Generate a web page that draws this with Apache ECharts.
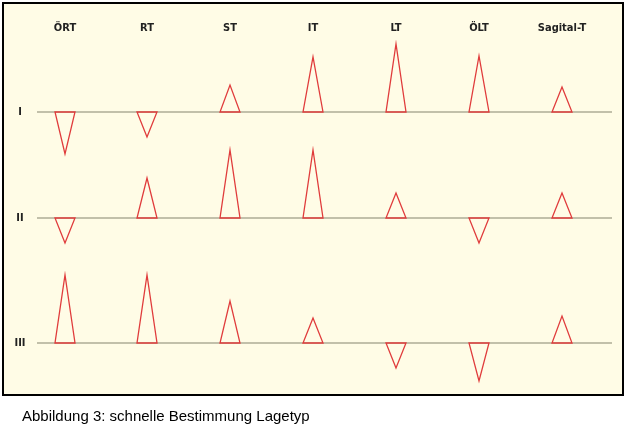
<!DOCTYPE html>
<html>
<head>
<meta charset="utf-8">
<script src="https://cdn.jsdelivr.net/npm/echarts@6/dist/echarts.min.js"></script>
<style>
  * { margin: 0; padding: 0; }
  html, body, #main { width: 626px; height: 436px; overflow: hidden; background: #fff; }
</style>
</head>
<body>
<div id="main"></div>
<script>
  // Spalten (Lagetypen) und Ableitungen
  var columns = ['ÖRT', 'RT', 'ST', 'IT', 'LT', 'ÖLT', 'Sagital-T'];
  var columnX = [65, 147, 230, 313, 396, 479, 562];
  var leads = ['I', 'II', 'III'];
  var leadBase = [112, 218, 343];
  // Ausschlag je Ableitung (positiv = nach oben)
  var leadI = [-42, -25, 27, 55, 68, 56, 25];
  var leadII = [-25, 40, 68, 68, 25, -25, 25];
  var leadIII = [68, 68, 42, 25, -25, -38, 27];

  var amplitudes = [leadI, leadII, leadIII];
  var triData = [];
  amplitudes.forEach(function (row, r) {
    row.forEach(function (h, c) {
      triData.push([columnX[c], leadBase[r], h]);
    });
  });
  var lineData = leadBase.map(function (b) { return [37, 612, b]; });
  var headerData = columns.map(function (n, i) { return [columnX[i], 28, n]; });
  var leadLabelData = leads.map(function (n, i) { return [20, leadBase[i], n]; });

  var chart = echarts.init(document.getElementById('main'));
  chart.setOption({
    animation: false,
    graphic: [
      { type: 'rect', shape: { x: 3, y: 3, width: 620, height: 392 },
        style: { fill: '#fffce6', stroke: '#000', lineWidth: 2 }, z: -10 },
      { type: 'text', left: 22, top: 409,
        style: { text: 'Abbildung 3: schnelle Bestimmung Lagetyp', font: '15px Arial, "Liberation Sans"', fill: '#000' } }
    ],
    grid: { left: 0, right: 0, top: 0, bottom: 0 },
    xAxis: { type: 'value', min: 0, max: 626, show: false },
    yAxis: { type: 'value', min: 0, max: 436, inverse: true, show: false },
    series: [
      {
        type: 'custom', data: lineData, z: 1,
        renderItem: function (params, api) {
          var a = api.coord([api.value(0), api.value(2)]);
          var b = api.coord([api.value(1), api.value(2)]);
          return { type: 'line', shape: { x1: a[0], y1: a[1], x2: b[0], y2: b[1] },
            style: { stroke: '#c2c0aa', lineWidth: 2 } };
        }
      },
      {
        type: 'custom', data: triData, z: 2,
        renderItem: function (params, api) {
          var x = api.value(0), base = api.value(1), h = api.value(2);
          var p0 = api.coord([x - 10, base]);
          var p1 = api.coord([x + 10, base]);
          var tip = api.coord([x, base - h]);
          return { type: 'polygon', shape: { points: [p0, p1, tip] },
            style: { fill: 'none', stroke: '#e03c3c', lineWidth: 1.3 } };
        }
      },
      {
        type: 'custom', data: headerData, z: 3,
        renderItem: function (params, api) {
          var p = api.coord([api.value(0), api.value(1)]);
          return { type: 'text', x: p[0], y: p[1],
            style: { text: headerData[params.dataIndex][2], align: 'center', verticalAlign: 'middle',
              font: 'bold 11px "DejaVu Sans Condensed", "Liberation Sans Narrow", sans-serif', fill: '#222' } };
        }
      },
      {
        type: 'custom', data: leadLabelData, z: 3,
        renderItem: function (params, api) {
          var p = api.coord([api.value(0), api.value(1)]);
          return { type: 'text', x: p[0], y: p[1],
            style: { text: leadLabelData[params.dataIndex][2], align: 'center', verticalAlign: 'middle',
              font: 'bold 11px "DejaVu Sans Condensed", sans-serif', fill: '#222' } };
        }
      }
    ]
  });
</script>
</body>
</html>
